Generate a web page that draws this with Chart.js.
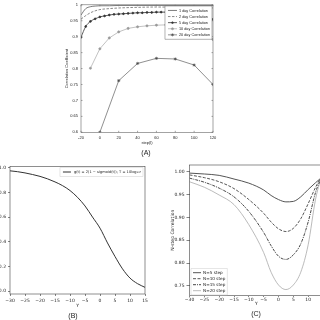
<!DOCTYPE html>
<html>
<head>
<meta charset="utf-8">
<script src="https://cdn.jsdelivr.net/npm/chart.js@4.4.1/dist/chart.umd.min.js"></script>
<style>
  html, body { margin: 0; padding: 0; background: #fff; }
  body { width: 320px; height: 320px; position: relative; overflow: hidden; }
  canvas { position: absolute; }
  .tag { position: absolute; font-family: 'Liberation Sans', Arial, sans-serif; font-size: 7px; color: #222;
         transform: translate(-50%, -50%); white-space: nowrap; }
</style>
</head>
<body>
<canvas id="chartA" width="230" height="150" style="left:0;top:0;width:230px;height:150px"></canvas>
<canvas id="chartB" width="180" height="170" style="left:-20px;top:150px;width:180px;height:170px"></canvas>
<canvas id="chartC" width="180" height="170" style="left:160px;top:150px;width:180px;height:170px"></canvas>
<div class="tag" style="left:146px;top:152px">(A)</div>
<div class="tag" style="left:73px;top:315px">(B)</div>
<div class="tag" style="left:256px;top:313px">(C)</div>
<script>
// ---- (A) correlation vs step ----
const stepsA = [-20, -15, -10, -5, 0, 10, 20, 40, 60, 80, 100, 120];
const day1 = [0.968, 0.988, 0.994, 0.996, 0.997, 0.997, 0.998, 0.998, 0.998, 0.998, 0.998, 0.998];
const day2 = [0.955, 0.966, 0.975, 0.981, 0.985, 0.988, 0.990, 0.992, 0.993, 0.993, 0.993, 0.990];
const steps5 = [-20, -15, -10, -5, 0, 5, 10, 15, 20, 25, 30, 35, 40, 45, 50, 55, 60, 65, 70, 75, 80, 85, 90, 95, 100, 105, 110, 115, 120];
const day5 = [0.898, 0.932, 0.948, 0.956, 0.962, 0.965, 0.968, 0.970, 0.971, 0.972, 0.973, 0.974, 0.975, 0.975, 0.976,
              0.976, 0.977, 0.977, 0.977, 0.977, 0.977, 0.977, 0.977, 0.977, 0.976, 0.975, 0.972, 0.966, 0.954];
const steps10 = [-10, 0, 10, 20, 30, 40, 50, 60, 70, 80, 90, 100, 110, 120];
const day10 = [0.801, 0.862, 0.896, 0.915, 0.926, 0.931, 0.934, 0.936, 0.937, 0.937, 0.937, 0.935, 0.928, 0.891];
const steps20 = [0, 20, 40, 60, 80, 100, 120];
const day20 = [0.600, 0.762, 0.816, 0.832, 0.830, 0.811, 0.750];
const ticksAx = [-20, 0, 20, 40, 60, 80, 100, 120];
const ticksAy = [0.6, 0.65, 0.7, 0.75, 0.8, 0.85, 0.9, 0.95, 1];

// ---- (B) g(t) ----
const xB = [-30, -27.5, -25, -22.5, -20, -17.5, -15, -12.5, -10, -7.5, -5, -2.5, 0, 2.5, 5, 7.5, 10, 12.5, 15];
const gB = [0.975, 0.968, 0.958, 0.945, 0.930, 0.910, 0.885, 0.855, 0.815, 0.760, 0.690, 0.600, 0.510, 0.390,
            0.280, 0.180, 0.105, 0.060, 0.030];
const ticksBx = [-30, -25, -20, -15, -10, -5, 0, 5, 10, 15];
const ticksBy = [0, 0.2, 0.4, 0.6, 0.8, 1.0];

// ---- (C) N-step correlation ----
const xC = [-30, -25, -20, -15, -10, -5, -2.5, 0, 2.5, 5, 7.5, 10, 12.5, 15];
const n5 = [0.997, 0.995, 0.992, 0.984, 0.975, 0.960, 0.948, 0.939, 0.934, 0.935, 0.945, 0.961, 0.976, 0.990];
const n10 = [0.993, 0.987, 0.978, 0.963, 0.939, 0.909, 0.890, 0.875, 0.869, 0.876, 0.897, 0.930, 0.966, 0.995];
const n15 = [0.986, 0.977, 0.964, 0.945, 0.913, 0.867, 0.838, 0.815, 0.808, 0.818, 0.842, 0.890, 0.955, 0.995];
const n20 = [0.978, 0.966, 0.949, 0.928, 0.884, 0.823, 0.780, 0.752, 0.742, 0.752, 0.780, 0.840, 0.940, 1.000];
const ticksCx = [-30, -25, -20, -15, -10, -5, 0, 5, 10, 15];
const ticksCy = [0.75, 0.8, 0.85, 0.9, 0.95, 1.0];

const fontA = "'Liberation Sans', Arial, sans-serif";
const fontBC = "'DejaVu Sans', sans-serif";
const minus = v => (v < 0 ? '\u2212' + Math.abs(v) : String(v));

function pts(xs, ys) { return xs.map((x, i) => ({ x, y: ys[i] })); }

// eje lineal con ticks fijos y tamano fijo
function axis(o) {
  return {
    type: 'linear', min: o.min, max: o.max,
    afterBuildTicks: s => { s.ticks = o.ticks.map(v => ({ value: v })); },
    afterFit: s => {
      if (s.isHorizontal()) s.height = o.size; else s.width = o.size;
      s.paddingLeft = s.paddingRight = s.paddingTop = s.paddingBottom = 0;
    },
    grid: { drawOnChartArea: false, drawTicks: o.tickLen > 0, tickLength: o.tickLen || 0, color: '#333', lineWidth: 0.6 },
    border: { display: false },
    ticks: { font: { family: o.family, size: o.fontSize }, color: '#222', padding: o.pad,
             maxRotation: 0, autoSkip: false, callback: o.fmt },
    title: { display: !!o.title, text: o.title || '', font: { family: o.family, size: o.fontSize },
             color: '#222', padding: 0 }
  };
}

// caja completa alrededor del area + ticks hacia dentro (estilo matlab)
const framePlugin = {
  id: 'frame',
  afterDraw(chart, args, o) {
    if (!o.color) return;
    const { ctx, chartArea: a, scales } = chart;
    ctx.save();
    ctx.strokeStyle = o.color;
    ctx.lineWidth = o.width;
    ctx.strokeRect(a.left, a.top, a.right - a.left, a.bottom - a.top);
    if (o.inTicks) {
      const L = o.inTicks;
      ctx.beginPath();
      scales.x.ticks.forEach(t => {
        const px = scales.x.getPixelForValue(t.value);
        ctx.moveTo(px, a.bottom); ctx.lineTo(px, a.bottom - L);
        ctx.moveTo(px, a.top); ctx.lineTo(px, a.top + L);
      });
      scales.y.ticks.forEach(t => {
        const py = scales.y.getPixelForValue(t.value);
        ctx.moveTo(a.left, py); ctx.lineTo(a.left + L, py);
        ctx.moveTo(a.right, py); ctx.lineTo(a.right - L, py);
      });
      ctx.stroke();
    }
    ctx.restore();
  }
};

// leyenda en caja dentro del area del grafico
const boxLegend = {
  id: 'boxLegend',
  afterDraw(chart, args, o) {
    if (!o.rowH) return;
    const { ctx } = chart;
    const sets = chart.data.datasets;
    ctx.save();
    ctx.font = `${o.size}px ${o.family}`;
    const textW = Math.max(...sets.map(d => ctx.measureText(d.label).width));
    const w = o.textX + textW + o.padR;
    const h = o.rowH * sets.length + o.pad * 2;
    const x = o.right != null ? o.right - w : o.left;
    const y = o.top;
    ctx.fillStyle = '#fff';
    ctx.strokeStyle = o.border;
    ctx.lineWidth = 0.5;
    ctx.beginPath(); ctx.rect(x, y, w, h); ctx.fill(); ctx.stroke();
    sets.forEach((d, i) => {
      const cy = y + o.pad + o.rowH * (i + 0.5);
      ctx.strokeStyle = d.borderColor;
      ctx.lineWidth = d.borderWidth;
      ctx.setLineDash(d.borderDash || []);
      ctx.beginPath(); ctx.moveTo(x + o.lineX0, cy); ctx.lineTo(x + o.lineX1, cy); ctx.stroke();
      ctx.setLineDash([]);
      if (d.pointRadius > 0) {
        ctx.fillStyle = d.pointBackgroundColor;
        ctx.strokeStyle = d.pointBorderColor;
        ctx.lineWidth = 0.5;
        Chart.helpers.drawPoint(ctx, { pointStyle: d.pointStyle || 'circle', radius: d.pointRadius, rotation: 0, borderWidth: 0.5 },
          x + (o.lineX0 + o.lineX1) / 2, cy);
      }
      ctx.fillStyle = '#222';
      ctx.textBaseline = 'middle';
      ctx.fillText(d.label, x + o.textX, cy);
    });
    ctx.restore();
  }
};

Chart.register(framePlugin, boxLegend);

function line(label, data, color, width, extra) {
  return Object.assign({ label, data, borderColor: color, backgroundColor: color, borderWidth: width,
    pointRadius: 0, pointBackgroundColor: color, pointBorderColor: color, fill: false }, extra || {});
}

const baseOpts = { responsive: false, animation: false, devicePixelRatio: 1, events: [] };

// ---- Panel A ----
new Chart(document.getElementById('chartA'), {
  type: 'line',
  data: {
    datasets: [
      line('1 day Correlation', pts(stepsA, day1), '#444', 0.7, { cubicInterpolationMode: 'monotone' }),
      line('2 day Correlation', pts(stepsA, day2), '#555', 0.7, { borderDash: [2.5, 1.5], cubicInterpolationMode: 'monotone' }),
      line('5 day Correlation', pts(steps5, day5), '#333', 0.8, { pointRadius: 0.9, cubicInterpolationMode: 'monotone' }),
      line('10 day Correlation', pts(steps10, day10), '#999', 0.6, { pointRadius: 1.1 }),
      line('20 day Correlation', pts(steps20, day20), '#444', 0.6, { pointRadius: 1.6, pointStyle: 'star' })
    ]
  },
  options: Object.assign({}, baseOpts, {
    layout: { padding: { left: 64, top: 1.7, right: 17, bottom: 4.3 } },
    scales: {
      x: axis({ min: -20, max: 120, ticks: ticksAx, size: 13.4, tickLen: 0, pad: 3, family: fontA, fontSize: 4,
                fmt: v => String(v), title: 'step(l)' }),
      y: axis({ min: 0.6, max: 1, ticks: ticksAy, size: 17, tickLen: 0, pad: 3, family: fontA, fontSize: 4,
                fmt: v => String(+v.toFixed(2)), title: 'Correlation Coefficient' })
    },
    plugins: {
      legend: { display: false }, tooltip: { enabled: false },
      frame: { color: '#666', width: 0.6, inTicks: 1.5 },
      boxLegend: { right: 212, top: 6, rowH: 6.1, pad: 1.4, lineX0: 3, lineX1: 12, textX: 14, padR: 2,
                   size: 3.8, family: fontA, border: '#666' }
    }
  })
});

// ---- Panel B ----
new Chart(document.getElementById('chartB'), {
  type: 'line',
  data: {
    datasets: [
      line('g(t) = 2(1 \u2212 sigmoid(t)); T = 10log\u2081\u2080r', pts(xB, gB), '#333', 1, { cubicInterpolationMode: 'monotone' })
    ]
  },
  options: Object.assign({}, baseOpts, {
    layout: { padding: { left: 0, top: 16.5, right: 15, bottom: 11.6 } },
    scales: {
      x: axis({ min: -30, max: 15, ticks: ticksBx, size: 14.4, tickLen: 2, pad: 2, family: fontBC, fontSize: 4.5,
                fmt: minus, title: 'Y' }),
      y: axis({ min: -0.024, max: 1.01, ticks: ticksBy, size: 30, tickLen: 2, pad: 2, family: fontBC, fontSize: 4.5,
                fmt: v => v.toFixed(1) })
    },
    plugins: {
      legend: { display: false }, tooltip: { enabled: false },
      frame: { color: '#444', width: 0.6 },
      boxLegend: { right: 163, top: 17.5, rowH: 7, pad: 1, lineX0: 3, lineX1: 11, textX: 14, padR: 2,
                   size: 3.6, family: fontBC, border: '#ccc' }
    }
  })
});

// ---- Panel C ----
new Chart(document.getElementById('chartC'), {
  type: 'line',
  data: {
    datasets: [
      line('N=5 step', pts(xC, n5), '#555', 1.0, { cubicInterpolationMode: 'monotone' }),
      line('N=10 step', pts(xC, n10), '#444', 0.9, { borderDash: [3, 1.5], cubicInterpolationMode: 'monotone' }),
      line('N=15 step', pts(xC, n15), '#333', 0.9, { borderDash: [3, 1, 1, 1], cubicInterpolationMode: 'monotone' }),
      line('N=20 step', pts(xC, n20), '#aaa', 0.8, { cubicInterpolationMode: 'monotone' })
    ]
  },
  options: Object.assign({}, baseOpts, {
    layout: { padding: { left: 10, top: 15, right: 17, bottom: 13.3 } },
    scales: {
      x: axis({ min: -30, max: 15, ticks: ticksCx, size: 11.2, tickLen: 1.5, pad: 0, family: fontBC, fontSize: 4.5,
                fmt: minus, title: 'Y' }),
      y: axis({ min: 0.729, max: 1.0147, ticks: ticksCy, size: 19.5, tickLen: 3, pad: 2, family: fontBC, fontSize: 4.5,
                fmt: v => v.toFixed(2), title: 'N-step Correlation' })
    },
    plugins: {
      legend: { display: false }, tooltip: { enabled: false },
      frame: { color: '#444', width: 0.6 },
      boxLegend: { left: 31, top: 118.5, rowH: 6, pad: 1.2, lineX0: 2, lineX1: 10, textX: 12, padR: 2,
                   size: 4.2, family: fontBC, border: '#ccc' }
    }
  })
});
</script>
</body>
</html>
